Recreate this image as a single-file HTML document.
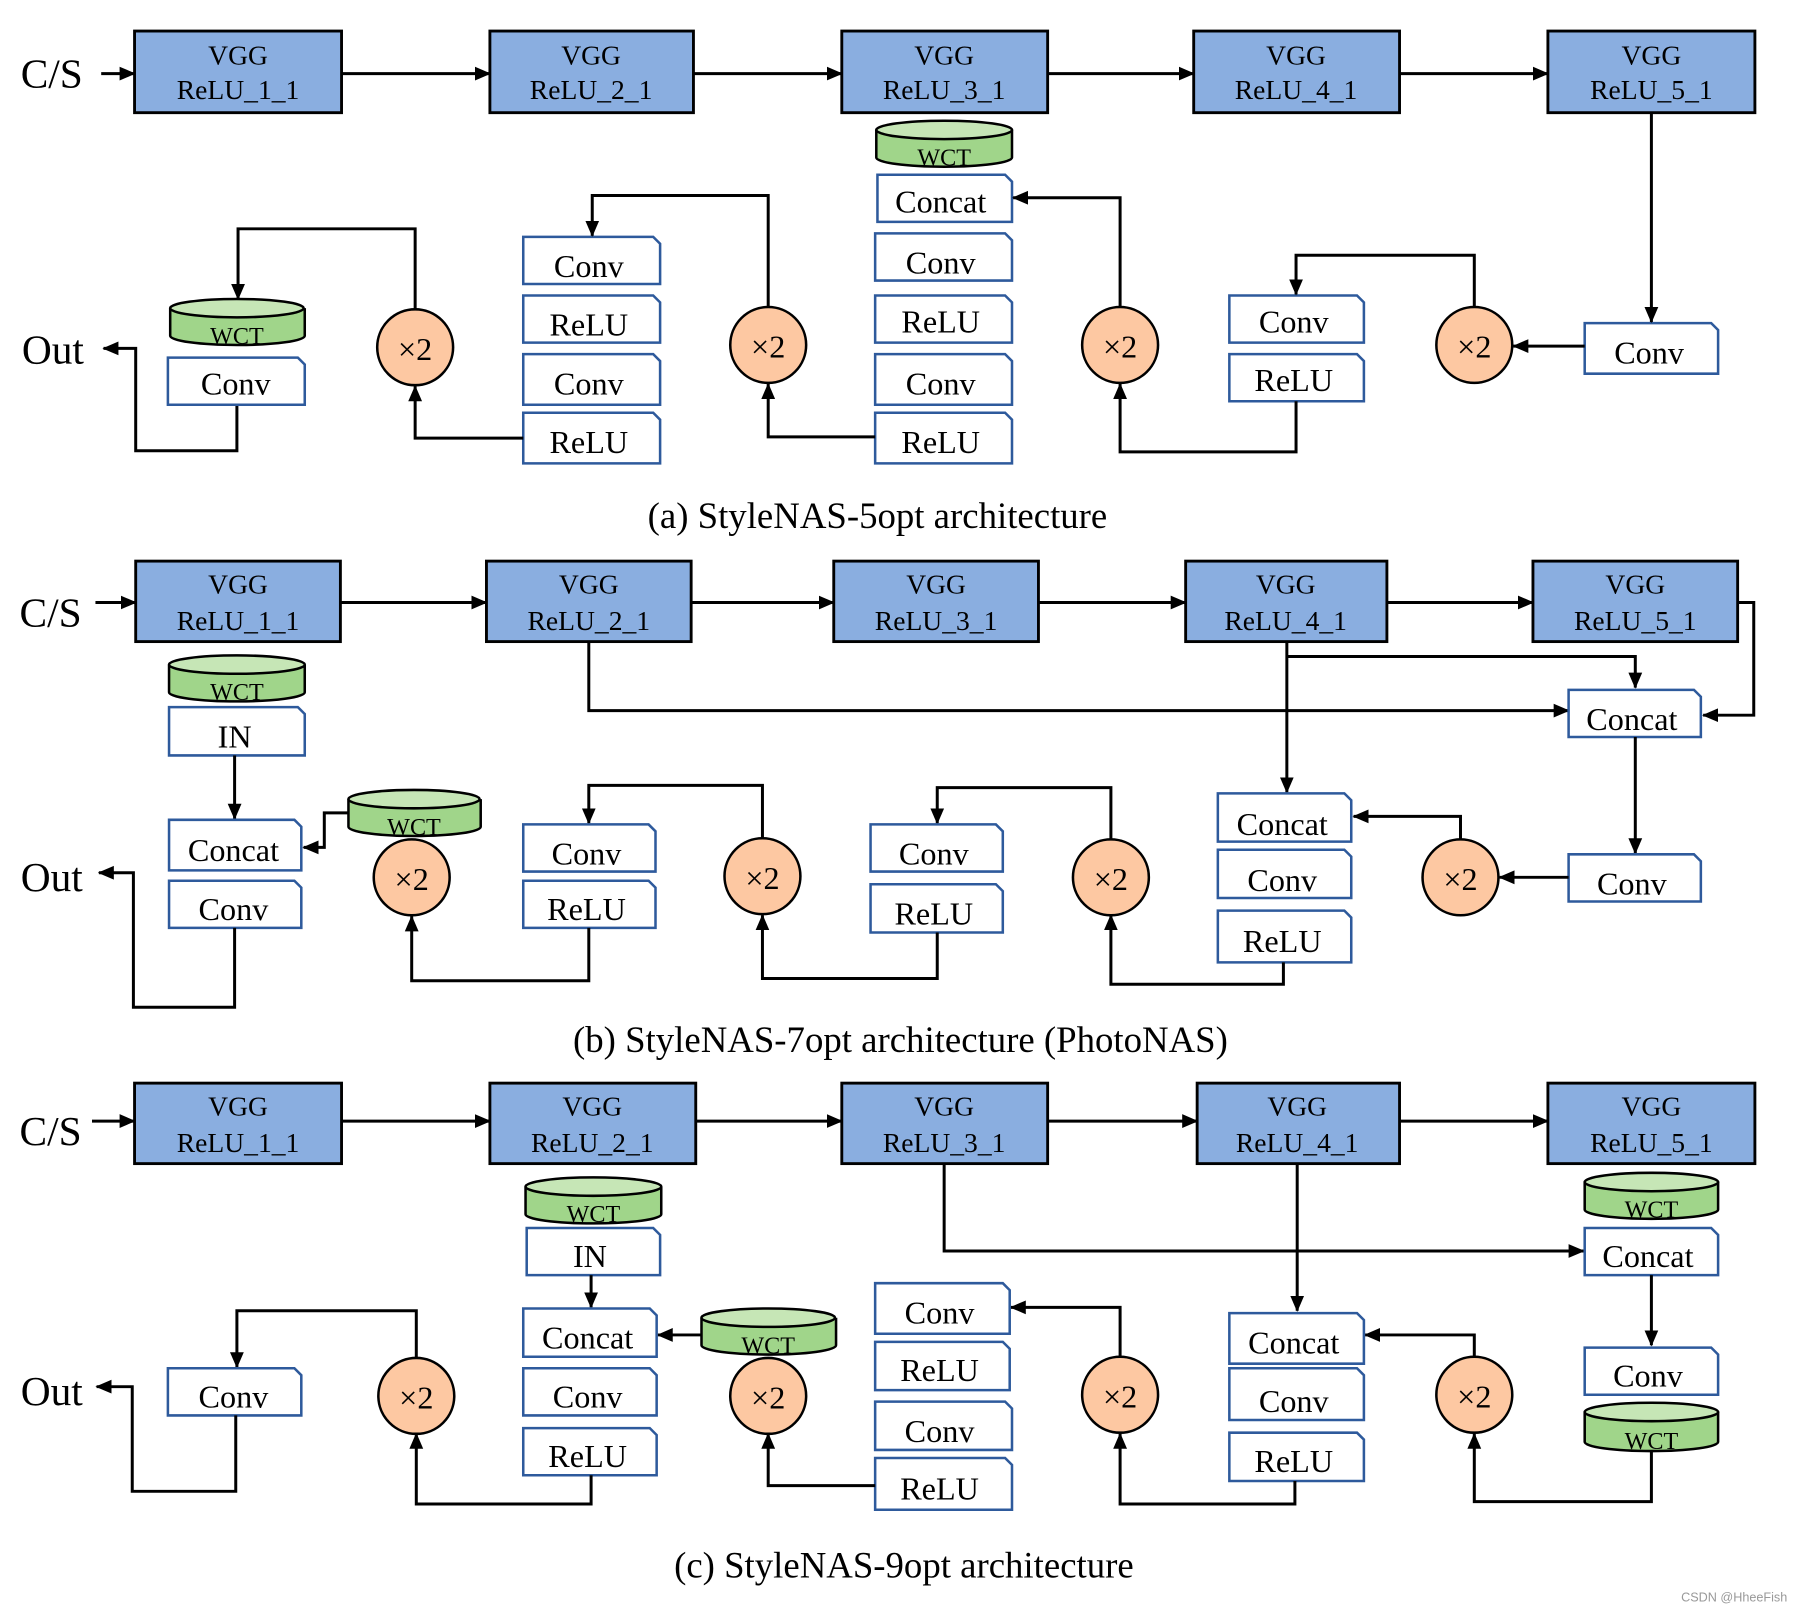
<!DOCTYPE html>
<html><head><meta charset="utf-8"><style>
html,body{margin:0;padding:0;background:#fff}
svg{display:block}
text{font-family:"Liberation Serif",serif;fill:#000;text-anchor:middle}
.v{fill:#8aaee0;stroke:#000;stroke-width:2.5}
.b{fill:#fff;stroke:#2e5a9c;stroke-width:2.2}
.c{fill:#fdc8a2;stroke:#000;stroke-width:2.2}
.cy{fill:#a0d58a;stroke:#000;stroke-width:2.2}
.ct{fill:#c6e6b6;stroke:#000;stroke-width:2.2}
.l{fill:none;stroke:#000;stroke-width:2.6}
.t1{font-size:24px}
.t2{font-size:28px}
.t3{font-size:21px}
.t4{font-size:36px}
.cap{font-size:32px}
</style></head><body>
<svg width="1794" height="1604" viewBox="0 0 1560 1395" preserveAspectRatio="none" xmlns="http://www.w3.org/2000/svg">
<defs>
<marker id="m" markerWidth="14" markerHeight="14" refX="13" refY="7" orient="auto" markerUnits="userSpaceOnUse"><path d="M0,1L14,7L0,13Z" fill="#000"/></marker></defs>

<!-- ===== Panel A ===== -->
<text x="45" y="76" class="t4">C/S</text>
<path class="l" d="M88 64H117" marker-end="url(#m)"/>
<rect class="v" x="117" y="27" width="180" height="71"/><text x="207" y="56" class="t1">VGG</text><text x="207" y="86" class="t1">ReLU_1_1</text>
<rect class="v" x="426" y="27" width="177" height="71"/><text x="514" y="56" class="t1">VGG</text><text x="514" y="86" class="t1">ReLU_2_1</text>
<rect class="v" x="732" y="27" width="179" height="71"/><text x="821" y="56" class="t1">VGG</text><text x="821" y="86" class="t1">ReLU_3_1</text>
<rect class="v" x="1038" y="27" width="179" height="71"/><text x="1127" y="56" class="t1">VGG</text><text x="1127" y="86" class="t1">ReLU_4_1</text>
<rect class="v" x="1346" y="27" width="180" height="71"/><text x="1436" y="56" class="t1">VGG</text><text x="1436" y="86" class="t1">ReLU_5_1</text>
<path class="l" d="M297 64H426" marker-end="url(#m)"/>
<path class="l" d="M603 64H732" marker-end="url(#m)"/>
<path class="l" d="M911 64H1038" marker-end="url(#m)"/>
<path class="l" d="M1217 64H1346" marker-end="url(#m)"/>

<text x="46" y="316" class="t4">Out</text>
<path class="l" d="M206 352V392H118V303H90" marker-end="url(#m)"/>
<path class="cy" d="M148 268V292A58 8 0 0 0 265 292V268"/><ellipse class="ct" cx="206" cy="268" rx="58" ry="8"/><text x="206" y="299" class="t3">WCT</text>
<path class="b" d="M146 311H259L265 317V352H146Z"/><text x="205" y="343" class="t2">Conv</text>
<path class="l" d="M361 269V199H207V260" marker-end="url(#m)"/>
<circle class="c" cx="361" cy="302" r="33"/><text x="361" y="313" class="t2">×2</text>
<path class="b" d="M455 206H568L574 212V247H455Z"/><text x="512" y="241" class="t2">Conv</text>
<path class="b" d="M455 257H568L574 263V298H455Z"/><text x="512" y="292" class="t2">ReLU</text>
<path class="b" d="M455 308H568L574 314V352H455Z"/><text x="512" y="343" class="t2">Conv</text>
<path class="b" d="M455 359H568L574 365V403H455Z"/><text x="512" y="394" class="t2">ReLU</text>
<path class="l" d="M455 381H361V336" marker-end="url(#m)"/>
<path class="l" d="M668 267V170H515V205" marker-end="url(#m)"/>
<circle class="c" cx="668" cy="300" r="33"/><text x="668" y="311" class="t2">×2</text>
<path class="cy" d="M762 113V137A59 8 0 0 0 880 137V113"/><ellipse class="ct" cx="821" cy="113" rx="59" ry="8"/><text x="821" y="144" class="t3">WCT</text>
<path class="b" d="M763 152H874L880 158V193H763Z"/><text x="818" y="185" class="t2">Concat</text>
<path class="b" d="M761 203H874L880 209V244H761Z"/><text x="818" y="238" class="t2">Conv</text>
<path class="b" d="M761 257H874L880 263V298H761Z"/><text x="818" y="289" class="t2">ReLU</text>
<path class="b" d="M761 308H874L880 314V352H761Z"/><text x="818" y="343" class="t2">Conv</text>
<path class="b" d="M761 359H874L880 365V403H761Z"/><text x="818" y="394" class="t2">ReLU</text>
<path class="l" d="M761 380H668V334" marker-end="url(#m)"/>
<path class="l" d="M974 267V172H881" marker-end="url(#m)"/>
<circle class="c" cx="974" cy="300" r="33"/><text x="974" y="311" class="t2">×2</text>
<path class="b" d="M1069 257H1180L1186 263V298H1069Z"/><text x="1125" y="289" class="t2">Conv</text>
<path class="b" d="M1069 308H1180L1186 314V349H1069Z"/><text x="1125" y="340" class="t2">ReLU</text>
<path class="l" d="M1127 349V393H974V334" marker-end="url(#m)"/>
<path class="l" d="M1282 267V222H1127V256" marker-end="url(#m)"/>
<circle class="c" cx="1282" cy="300" r="33"/><text x="1282" y="311" class="t2">×2</text>
<path class="b" d="M1378 281H1488L1494 287V325H1378Z"/><text x="1434" y="316" class="t2">Conv</text>
<path class="l" d="M1436 98V280" marker-end="url(#m)"/>
<path class="l" d="M1378 301H1316" marker-end="url(#m)"/>
<text x="763" y="459" class="cap">(a) StyleNAS-5opt architecture</text>

<!-- ===== Panel B ===== -->
<text x="44" y="545" class="t4">C/S</text>
<path class="l" d="M83 524H118" marker-end="url(#m)"/>
<rect class="v" x="118" y="488" width="178" height="70"/><text x="207" y="516" class="t1">VGG</text><text x="207" y="548" class="t1">ReLU_1_1</text>
<rect class="v" x="423" y="488" width="178" height="70"/><text x="512" y="516" class="t1">VGG</text><text x="512" y="548" class="t1">ReLU_2_1</text>
<rect class="v" x="725" y="488" width="178" height="70"/><text x="814" y="516" class="t1">VGG</text><text x="814" y="548" class="t1">ReLU_3_1</text>
<rect class="v" x="1031" y="488" width="175" height="70"/><text x="1118" y="516" class="t1">VGG</text><text x="1118" y="548" class="t1">ReLU_4_1</text>
<rect class="v" x="1333" y="488" width="178" height="70"/><text x="1422" y="516" class="t1">VGG</text><text x="1422" y="548" class="t1">ReLU_5_1</text>
<path class="l" d="M296 524H423" marker-end="url(#m)"/>
<path class="l" d="M601 524H725" marker-end="url(#m)"/>
<path class="l" d="M903 524H1031" marker-end="url(#m)"/>
<path class="l" d="M1206 524H1333" marker-end="url(#m)"/>
<path class="l" d="M512 558V618H1364" marker-end="url(#m)"/>
<path class="l" d="M1119 558V689" marker-end="url(#m)"/>
<path class="l" d="M1119 571H1422V598" marker-end="url(#m)"/>
<path class="l" d="M1511 524H1525V622H1481" marker-end="url(#m)"/>
<path class="b" d="M1364 600H1473L1479 606V641H1364Z"/><text x="1419" y="635" class="t2">Concat</text>
<path class="l" d="M1422 641V742" marker-end="url(#m)"/>
<path class="b" d="M1364 743H1473L1479 749V784H1364Z"/><text x="1419" y="778" class="t2">Conv</text>
<path class="l" d="M1364 763H1304" marker-end="url(#m)"/>
<circle class="c" cx="1270" cy="763" r="33"/><text x="1270" y="774" class="t2">×2</text>
<path class="l" d="M1270 730V710H1177" marker-end="url(#m)"/>
<path class="b" d="M1059 690H1169L1175 696V732H1059Z"/><text x="1115" y="726" class="t2">Concat</text>
<path class="b" d="M1059 739H1169L1175 745V781H1059Z"/><text x="1115" y="775" class="t2">Conv</text>
<path class="b" d="M1059 792H1169L1175 798V837H1059Z"/><text x="1115" y="828" class="t2">ReLU</text>
<path class="l" d="M1116 837V856H966V796" marker-end="url(#m)"/>
<circle class="c" cx="966" cy="763" r="33"/><text x="966" y="774" class="t2">×2</text>
<path class="l" d="M966 730V685H815V716" marker-end="url(#m)"/>
<path class="b" d="M757 717H866L872 723V758H757Z"/><text x="812" y="752" class="t2">Conv</text>
<path class="b" d="M757 769H866L872 775V811H757Z"/><text x="812" y="804" class="t2">ReLU</text>
<path class="l" d="M815 811V851H663V796" marker-end="url(#m)"/>
<circle class="c" cx="663" cy="762" r="33"/><text x="663" y="773" class="t2">×2</text>
<path class="l" d="M663 729V683H512V716" marker-end="url(#m)"/>
<path class="b" d="M455 717H564L570 723V758H455Z"/><text x="510" y="752" class="t2">Conv</text>
<path class="b" d="M455 766H564L570 772V807H455Z"/><text x="510" y="800" class="t2">ReLU</text>
<path class="l" d="M512 807V853H358V797" marker-end="url(#m)"/>
<circle class="c" cx="358" cy="763" r="33"/><text x="358" y="774" class="t2">×2</text>
<path class="cy" d="M303 695V719A57 8 0 0 0 418 719V695"/><ellipse class="ct" cx="360" cy="695" rx="57" ry="8"/><text x="360" y="726" class="t3">WCT</text>
<path class="l" d="M303 707H282V737H264" marker-end="url(#m)"/>
<path class="cy" d="M147 578V602A59 8 0 0 0 265 602V578"/><ellipse class="ct" cx="206" cy="578" rx="59" ry="8"/><text x="206" y="609" class="t3">WCT</text>
<path class="b" d="M147 615H259L265 621V657H147Z"/><text x="204" y="650" class="t2">IN</text>
<path class="l" d="M204 657V712" marker-end="url(#m)"/>
<path class="b" d="M147 713H256L262 719V757H147Z"/><text x="203" y="749" class="t2">Concat</text>
<path class="b" d="M147 766H256L262 772V807H147Z"/><text x="203" y="800" class="t2">Conv</text>
<text x="45" y="775" class="t4">Out</text>
<path class="l" d="M204 807V876H116V759H86" marker-end="url(#m)"/>
<text x="783" y="915" class="cap">(b) StyleNAS-7opt architecture (PhotoNAS)</text>

<!-- ===== Panel C ===== -->
<text x="44" y="996" class="t4">C/S</text>
<path class="l" d="M80 975H117" marker-end="url(#m)"/>
<rect class="v" x="117" y="942" width="180" height="70"/><text x="207" y="970" class="t1">VGG</text><text x="207" y="1002" class="t1">ReLU_1_1</text>
<rect class="v" x="426" y="942" width="179" height="70"/><text x="515" y="970" class="t1">VGG</text><text x="515" y="1002" class="t1">ReLU_2_1</text>
<rect class="v" x="732" y="942" width="179" height="70"/><text x="821" y="970" class="t1">VGG</text><text x="821" y="1002" class="t1">ReLU_3_1</text>
<rect class="v" x="1041" y="942" width="176" height="70"/><text x="1128" y="970" class="t1">VGG</text><text x="1128" y="1002" class="t1">ReLU_4_1</text>
<rect class="v" x="1346" y="942" width="180" height="70"/><text x="1436" y="970" class="t1">VGG</text><text x="1436" y="1002" class="t1">ReLU_5_1</text>
<path class="l" d="M297 975H426" marker-end="url(#m)"/>
<path class="l" d="M605 975H732" marker-end="url(#m)"/>
<path class="l" d="M911 975H1041" marker-end="url(#m)"/>
<path class="l" d="M1217 975H1346" marker-end="url(#m)"/>
<path class="l" d="M821 1012V1088H1377" marker-end="url(#m)"/>
<path class="cy" d="M1378 1028V1052A58 8 0 0 0 1494 1052V1028"/><ellipse class="ct" cx="1436" cy="1028" rx="58" ry="8"/><text x="1436" y="1059" class="t3">WCT</text>
<path class="b" d="M1378 1068H1488L1494 1074V1109H1378Z"/><text x="1433" y="1102" class="t2">Concat</text>
<path class="l" d="M1436 1109V1170" marker-end="url(#m)"/>
<path class="b" d="M1378 1172H1488L1494 1178V1213H1378Z"/><text x="1433" y="1206" class="t2">Conv</text>
<path class="cy" d="M1378 1228V1254A58 8 0 0 0 1494 1254V1228"/><ellipse class="ct" cx="1436" cy="1228" rx="58" ry="8"/><text x="1436" y="1260" class="t3">WCT</text>
<path class="l" d="M1436 1262V1306H1282V1247" marker-end="url(#m)"/>
<circle class="c" cx="1282" cy="1213" r="33"/><text x="1282" y="1224" class="t2">×2</text>
<path class="l" d="M1282 1180V1161H1187" marker-end="url(#m)"/>
<path class="l" d="M1128 1012V1140" marker-end="url(#m)"/>
<path class="b" d="M1069 1142H1180L1186 1148V1186H1069Z"/><text x="1125" y="1177" class="t2">Concat</text>
<path class="b" d="M1069 1190H1180L1186 1196V1235H1069Z"/><text x="1125" y="1228" class="t2">Conv</text>
<path class="b" d="M1069 1246H1180L1186 1252V1288H1069Z"/><text x="1125" y="1280" class="t2">ReLU</text>
<path class="l" d="M1126 1288V1308H974V1247" marker-end="url(#m)"/>
<circle class="c" cx="974" cy="1213" r="33"/><text x="974" y="1224" class="t2">×2</text>
<path class="l" d="M974 1180V1137H879" marker-end="url(#m)"/>
<path class="b" d="M761 1116H872L878 1122V1160H761Z"/><text x="817" y="1151" class="t2">Conv</text>
<path class="b" d="M761 1167H872L878 1173V1209H761Z"/><text x="817" y="1201" class="t2">ReLU</text>
<path class="b" d="M761 1219H874L880 1225V1261H761Z"/><text x="817" y="1254" class="t2">Conv</text>
<path class="b" d="M761 1268H874L880 1274V1313H761Z"/><text x="817" y="1304" class="t2">ReLU</text>
<path class="l" d="M761 1292H668V1247" marker-end="url(#m)"/>
<circle class="c" cx="668" cy="1214" r="33"/><text x="668" y="1225" class="t2">×2</text>
<path class="cy" d="M610 1146V1170A58 8 0 0 0 727 1170V1146"/><ellipse class="ct" cx="668" cy="1146" rx="58" ry="8"/><text x="668" y="1177" class="t3">WCT</text>
<path class="l" d="M610 1161H572" marker-end="url(#m)"/>
<path class="cy" d="M457 1032V1056A59 8 0 0 0 575 1056V1032"/><ellipse class="ct" cx="516" cy="1032" rx="59" ry="8"/><text x="516" y="1063" class="t3">WCT</text>
<path class="b" d="M458 1068H568L574 1074V1109H458Z"/><text x="513" y="1102" class="t2">IN</text>
<path class="l" d="M514 1109V1137" marker-end="url(#m)"/>
<path class="b" d="M455 1138H565L571 1144V1180H455Z"/><text x="511" y="1173" class="t2">Concat</text>
<path class="b" d="M455 1190H565L571 1196V1231H455Z"/><text x="511" y="1224" class="t2">Conv</text>
<path class="b" d="M455 1242H565L571 1248V1283H455Z"/><text x="511" y="1276" class="t2">ReLU</text>
<path class="l" d="M514 1283V1308H362V1247" marker-end="url(#m)"/>
<circle class="c" cx="362" cy="1214" r="33"/><text x="362" y="1225" class="t2">×2</text>
<path class="l" d="M362 1181V1140H206V1189" marker-end="url(#m)"/>
<path class="b" d="M146 1190H256L262 1196V1231H146Z"/><text x="203" y="1224" class="t2">Conv</text>
<text x="45" y="1222" class="t4">Out</text>
<path class="l" d="M205 1231V1297H115V1206H84" marker-end="url(#m)"/>
<text x="786" y="1372" class="cap">(c) StyleNAS-9opt architecture</text>
<text x="1508" y="1393" style="font-family:'Liberation Sans',sans-serif;font-size:11px;fill:#999">CSDN @HheeFish</text>
</svg>
</body></html>
